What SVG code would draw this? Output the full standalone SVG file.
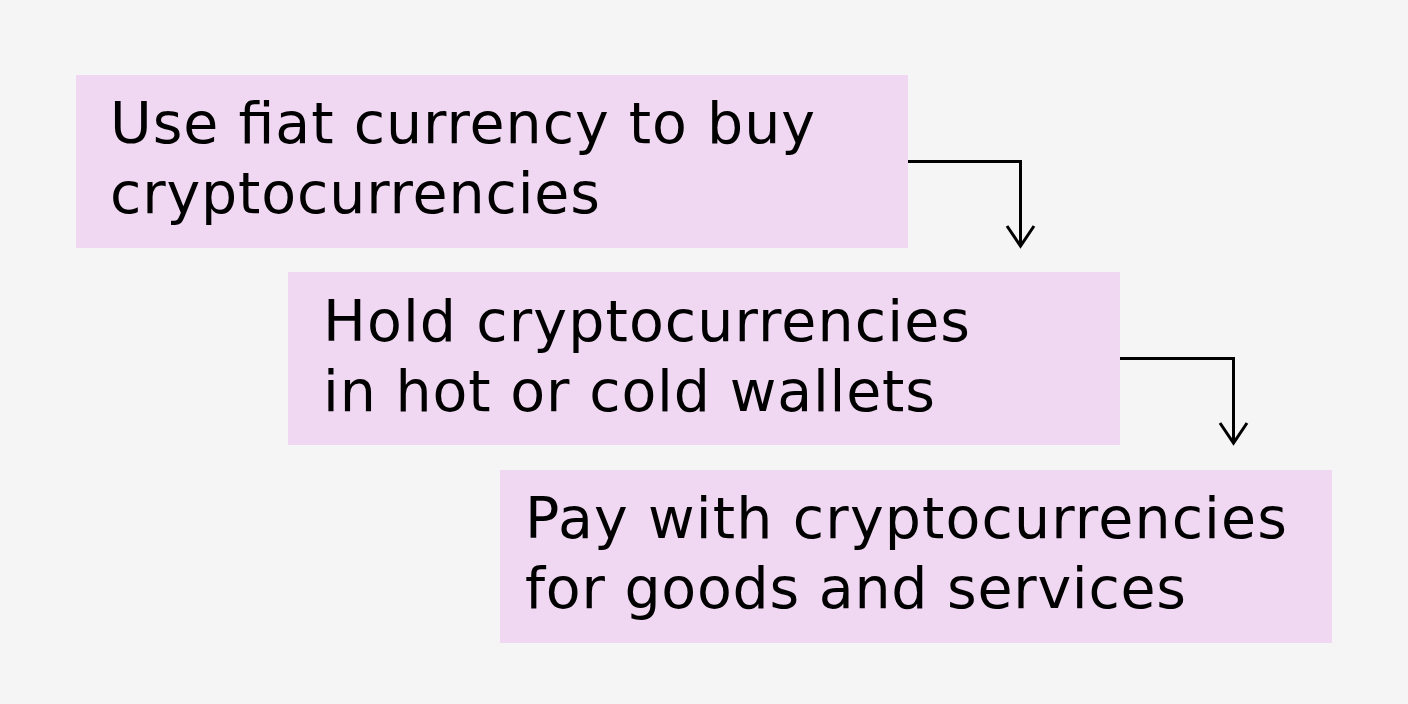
<svg xmlns="http://www.w3.org/2000/svg" width="1408" height="704" viewBox="0 0 1408 704">
<style>
.box{fill:#f0d8f2;}
.t{font-family:"DejaVu Sans","Noto Sans",sans-serif;font-size:57px;fill:#000;}
.c{fill:none;stroke:#000;stroke-width:3;}
</style>
<rect width="1408" height="704" fill="#f5f5f5"/>
<g id="node1">
<rect class="box" x="76" y="75" width="832" height="173"/>
<text class="t" x="110" y="143" textLength="705" lengthAdjust="spacing">Use fiat currency to buy</text>
<text class="t" x="110" y="213" textLength="490" lengthAdjust="spacing">cryptocurrencies</text>
</g>
<g id="node2">
<rect class="box" x="288" y="272" width="832" height="173"/>
<text class="t" x="323" y="341" textLength="647" lengthAdjust="spacing">Hold cryptocurrencies</text>
<text class="t" x="323" y="411" textLength="612" lengthAdjust="spacing">in hot or cold wallets</text>
</g>
<g id="node3">
<rect class="box" x="500" y="470" width="832" height="173"/>
<text class="t" x="525" y="538" textLength="762" lengthAdjust="spacing">Pay with cryptocurrencies</text>
<text class="t" x="525" y="608" textLength="661" lengthAdjust="spacing">for goods and services</text>
</g>
<g id="connectors">
<path class="c" d="M908 161.5H1020.5V246"/>
<path class="c" d="M1007 226L1020.5 246L1034 226"/>
<path class="c" d="M1120 358.5H1233.5V443"/>
<path class="c" d="M1220 423L1233.5 443L1247 423"/>
</g>
</svg>
